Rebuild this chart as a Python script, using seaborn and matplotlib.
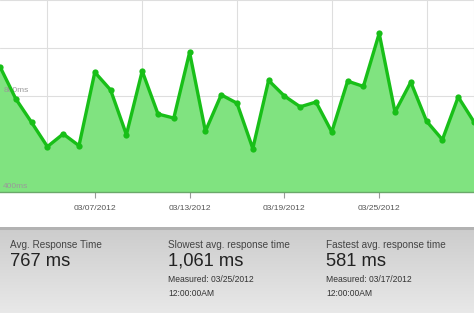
import numpy as np
import pandas as pd
import matplotlib
matplotlib.use("Agg")
import matplotlib.pyplot as plt
import matplotlib.dates as mdates
import seaborn as sns

dates = pd.date_range("2012-03-01", "2012-03-31", freq="D")
response_ms = [922, 788, 690, 589, 642, 593, 899, 825, 639, 904, 725, 708, 982, 653,
               805, 770, 581, 865, 800, 755, 775, 650, 862, 840, 1061, 733, 858, 695,
               618, 796, 692]
tick_dates = pd.to_datetime(["2012-03-07", "2012-03-13", "2012-03-19", "2012-03-25"])
y_labels = {400: "400ms", 800: "800ms"}
avg_label = "Avg. Response Time"
avg_value = "767 ms"
slow_label = "Slowest avg. response time"
slow_value = "1,061 ms"
slow_when = ["Measured: 03/25/2012", "12:00:00AM"]
fast_label = "Fastest avg. response time"
fast_value = "581 ms"
fast_when = ["Measured: 03/17/2012", "12:00:00AM"]

df = pd.DataFrame({"date": dates, "ms": response_ms})

sns.set_theme(style="white")
plt.rcParams["font.family"] = ["Liberation Sans", "DejaVu Sans"]

W, H = 474, 313
fig = plt.figure(figsize=(W / 100, H / 100), dpi=100)
fig.patch.set_facecolor("white")

# bottom gradient panel
pan_top = 227
pax = fig.add_axes([0, 0, 1, (H - pan_top) / H])
grad = np.linspace(0.80, 0.91, 100).reshape(-1, 1)
pax.imshow(np.dstack([grad, grad, grad]), aspect="auto", extent=[0, 1, 1, 0])
pax.axhline(0.01, color="#b2b2b2", lw=2.2)
pax.set_xlim(0, 1)
pax.set_ylim(1, 0)
pax.axis("off")

# chart axes
ax_bottom = 192
ax = fig.add_axes([0, 1 - ax_bottom / H, 1, ax_bottom / H])
ax.fill_between(df["date"], df["ms"], 400, color="#80e380", zorder=1, lw=0)
sns.lineplot(data=df, x="date", y="ms", ax=ax, color="#18bf18", lw=2.4,
             marker="o", markersize=4.5, markeredgewidth=0, zorder=3)
ax.set_xlim(dates[0], dates[-1])
ax.set_ylim(400, 1200)
ax.set_yticks([400, 600, 800, 1000, 1200])
ax.set_yticklabels([])
grid_dates = dates[3::3]
ax.set_xticks(grid_dates, minor=True)
ax.grid(True, which="minor", axis="x", color="#dedede", lw=0.8, zorder=0)
ax.grid(True, which="major", axis="y", color="#dedede", lw=0.8, zorder=0)
ax.set_axisbelow(True)
ax.set_xticks(tick_dates)
ax.xaxis.set_major_formatter(mdates.DateFormatter("%m/%d/%Y"))
ax.tick_params(axis="x", which="major", length=4, width=0.8, color="#999999",
               labelsize=6.1, labelcolor="#555555", pad=5, bottom=True)
ax.tick_params(axis="x", which="minor", length=0)
ax.tick_params(axis="y", length=0)
ax.set_xlabel("")
ax.set_ylabel("")
for s in ["top", "left", "right"]:
    ax.spines[s].set_visible(False)
ax.spines["bottom"].set_color("#6aa86a")
ax.spines["bottom"].set_linewidth(1.0)
for v, lab in y_labels.items():
    ax.text(dates[0] + pd.Timedelta(hours=5), v + 8, lab, fontsize=6, color="#9a9a9a",
            va="bottom", ha="left", zorder=2)

def ftxt(x, ytop, s, size, color="#333333"):
    fig.text(x / W, 1 - ytop / H, s, fontsize=size, color=color, va="top", ha="left")

cols = [(10, avg_label, avg_value, None),
        (168, slow_label, slow_value, slow_when),
        (326, fast_label, fast_value, fast_when)]
for x, lab, val, when in cols:
    ftxt(x, 240.5, lab, 7.2, "#444444")
    ftxt(x, 253.0, val, 13.2, "#222222")
    if when:
        ftxt(x, 275.0, when[0], 6.15, "#333333")
        ftxt(x, 288.5, when[1], 6.15, "#333333")

fig.savefig("out.png", dpi=100)
